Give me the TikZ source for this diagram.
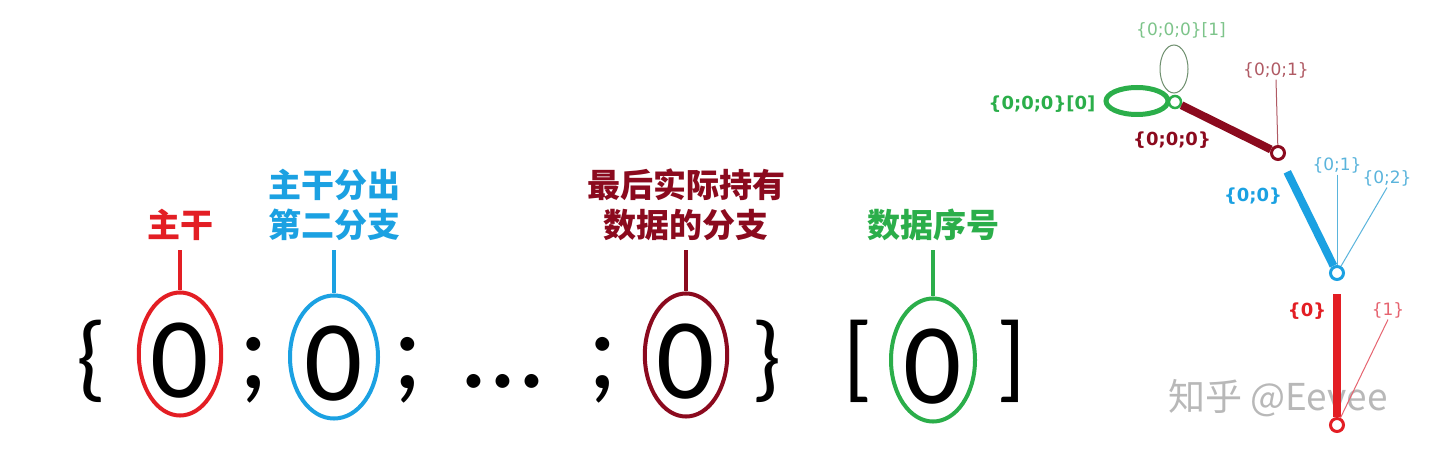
\documentclass[tikz,border=0pt]{standalone}
\usepackage{fontspec}
\setmainfont{Carlito}
\newfontfamily\cjk{Noto Sans CJK SC}
\newfontfamily\tagfont{DejaVu Sans}
\usetikzlibrary{shapes.geometric,positioning}
\definecolor{trunkred}{HTML}{E31E24}
\definecolor{branchblue}{HTML}{1BA1E2}
\definecolor{holdred}{HTML}{8B0A1E}
\definecolor{datagreen}{HTML}{2BAE4A}
\definecolor{paletrunk}{HTML}{E66470}
\definecolor{paleblue}{HTML}{5AB4DC}
\definecolor{palehold}{HTML}{B05A64}
\definecolor{palegreen}{HTML}{7DC48A}
\definecolor{loopgray}{HTML}{6E8F6E}

\begin{document}
\begin{tikzpicture}[x=1pt,y=-1pt,
    glyph/.style={inner sep=0pt, font=\fontsize{115}{115}\selectfont},
    fence/.style={inner sep=0pt, font=\fontsize{96}{96}\selectfont},
    ring/.style={ellipse, draw=#1, line width=4pt, inner sep=0pt, text=black, font=\fontsize{115}{115}\selectfont, text height=87pt, text depth=0pt},
    tag/.style={text=#1, font=\fontsize{33}{40}\selectfont\cjk\bfseries, align=center, inner sep=0pt, anchor=south},
    stem/.style={draw=#1, line width=4pt, shorten <=9pt},
    joint/.style={circle, draw=#1, fill=white, line width=3pt, minimum size=13pt, inner sep=0pt},
    branch/.style={draw=#1, line width=8pt},
    leaf/.style={text=#1, font=\fontsize{17}{17}\selectfont\tagfont, inner sep=1.5pt},
    bleaf/.style={text=#1, font=\fontsize{18}{18}\selectfont\tagfont\bfseries, inner sep=1.5pt},
    twig/.style={draw=#1, line width=1pt}]
    \useasboundingbox[fill=white] (0,0) rectangle (1440,457);

    \node (lbrace) [fence] at (92,361) {\{};
    \node (trunk) [ring=trunkred, minimum width=80pt, minimum height=116pt] at (180,354) {0};
    \node (semi1) [glyph] at (254,370) {;};
    \node (second) [ring=branchblue, minimum width=88pt, minimum height=116pt] at (334,357) {0};
    \node (semi2) [glyph] at (408,370) {;};
    \node (dots) [glyph] at (503,381) {...};
    \node (semi3) [glyph] at (603,370) {;};
    \node (holder) [ring=holdred, minimum width=76pt, minimum height=112pt] at (686,355) {0};
    \node (rbrace) [fence] at (767,361) {\}};
    \node (lbrack) [fence] at (858,361) {[};
    \node (index) [ring=datagreen, minimum width=84pt, minimum height=110pt] at (933,360) {0};
    \node (rbrack) [fence] at (1011,361) {]};

    \node (lbtrunk) [tag=trunkred] at (180,241) {主干};
    \node (lbsecond) [tag=branchblue] at (334,241) {主干分出\\第二分支};
    \node (lbholder) [tag=holdred] at (686,241) {最后实际持有\\数据的分支};
    \node (lbindex) [tag=datagreen] at (933,241) {数据序号};

    \draw[stem=trunkred] (lbtrunk.south) -- (trunk.north);
    \draw[stem=branchblue] (lbsecond.south) -- (second.north);
    \draw[stem=holdred] (lbholder.south) -- (holder.north);
    \draw[stem=datagreen] (lbindex.south) -- (index.north);

    \node (mark) [text=black!28, font=\fontsize{37}{37}\selectfont\cjk, inner sep=0pt] at (1278,398) {知乎 @Eevee};

    \node (root) [joint=trunkred] at (1337,425) {};
    \node (n0) [joint=branchblue] at (1337,273) {};
    \node (n00) [joint=holdred] at (1278,153) {};
    \node (d0) [ellipse, draw=datagreen, line width=5pt, minimum width=62pt, minimum height=27pt, inner sep=0pt] at (1137,101) {};
    \node (d1) [ellipse, draw=loopgray, line width=1pt, minimum width=28pt, minimum height=48pt, inner sep=0pt] at (1174,69) {};
    \node (n000) [joint=datagreen, minimum size=12pt, line width=2.5pt] at (1175,102) {};

    \draw[branch=trunkred, shorten <=13pt] (n0) -- (root);
    \draw[branch=branchblue, shorten <=13pt] (n00) -- (n0);
    \draw[branch=holdred] (n000) -- (n00);

    \node (t0) [bleaf=trunkred] at (1307,311) {\{0\}};
    \node (t1) [leaf=paletrunk] at (1388,310) {\{1\}};
    \node (t00) [bleaf=branchblue] at (1253,196) {\{0;0\}};
    \node (t01) [leaf=paleblue] at (1337,165) {\{0;1\}};
    \node (t02) [leaf=paleblue] at (1387,178) {\{0;2\}};
    \node (t000) [bleaf=holdred] at (1172,140) {\{0;0;0\}};
    \node (t001) [leaf=palehold] at (1276,70) {\{0;0;1\}};
    \node (td0) [bleaf=datagreen] at (1042,104) {\{0;0;0\}[0]};
    \node (td1) [leaf=palegreen] at (1181,30) {\{0;0;0\}[1]};

    \draw[twig=paletrunk] (t1.south) -- (root);
    \draw[twig=paleblue] (t01.south) -- (n0);
    \draw[twig=paleblue] (t02.south) -- (n0);
    \draw[twig=palehold] (t001.south) -- (n00);
\end{tikzpicture}
\end{document}
